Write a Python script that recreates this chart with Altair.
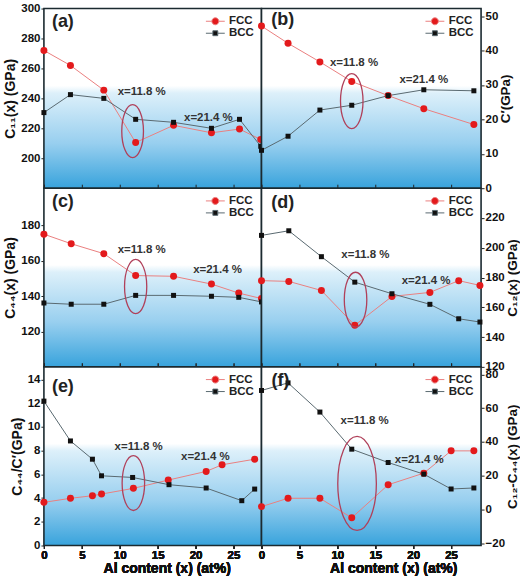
import altair as alt
import pandas as pd

FONT = "Liberation Sans"
XTICKS = [0, 5, 10, 15, 20, 25]

# ---------------- data ----------------
a_fcc_x = [0, 3.5, 7.9, 12.1, 17.1, 22.1, 25.8, 28.6]
a_fcc_y = [272, 262, 245.5, 210.5, 222, 217, 219.5, 212.5]
a_bcc_x = [0, 3.5, 7.9, 12.1, 17.1, 22.1, 25.8, 28.6]
a_bcc_y = [230.5, 242.5, 240, 226, 224, 220, 226, 208]

b_fcc_x = [0, 3.5, 7.7, 11.9, 16.7, 21.4, 28.0]
b_fcc_y = [47.1, 42.1, 36.7, 31.0, 26.9, 23.1, 18.5]
b_bcc_x = [0, 3.5, 7.7, 11.9, 16.7, 21.4, 28.0]
b_bcc_y = [11.0, 15.1, 22.7, 24.1, 26.9, 28.6, 28.3]

c_fcc_x = [0, 3.6, 7.9, 12.1, 17.1, 22.1, 25.7, 28.7]
c_fcc_y = [175, 169.6, 164, 151.6, 151.2, 146.8, 141.7, 138.6]
c_bcc_x = [0, 3.6, 7.9, 12.1, 17.1, 22.1, 25.7, 28.7]
c_bcc_y = [136.1, 135.4, 135.4, 140.4, 140.4, 139.9, 139.3, 136.7]

d_fcc_x = [0, 3.6, 7.9, 12.3, 17.2, 22.2, 26.0, 28.8]
d_fcc_y = [177.9, 177.4, 171.3, 147.9, 167.3, 170, 177.9, 174.7]
d_bcc_x = [0, 3.6, 7.9, 12.3, 17.2, 22.2, 26.0, 28.8]
d_bcc_y = [208.3, 211.4, 194, 176.9, 169.1, 162, 152.3, 150.1]

e_fcc_x = [0, 3.5, 6.4, 7.6, 11.8, 16.4, 21.4, 23.5, 27.8]
e_fcc_y = [3.64, 3.98, 4.2, 4.34, 4.82, 5.52, 6.25, 6.81, 7.28]
e_bcc_x = [0, 3.5, 6.4, 7.6, 11.7, 16.5, 21.4, 26.1, 27.8]
e_bcc_y = [12.18, 8.82, 7.28, 5.88, 5.74, 5.13, 4.85, 3.78, 4.76]

f_fcc_x = [0, 3.5, 7.7, 11.9, 16.7, 21.4, 25, 28]
f_fcc_y = [1.65, 6.6, 6.6, -5.0, 14.6, 21.5, 34.7, 34.7]
f_bcc_x = [0, 3.5, 7.7, 11.9, 16.7, 21.4, 25, 28]
f_bcc_y = [70.5, 75, 57.7, 35.7, 27.8, 20.9, 12.1, 12.7]

# annotations
note_labels = ["x=11.8 %", "x=21.4 %"]
a_note_x, a_note_y = [12.9, 21.7], [244.3, 227]
b_note_x, b_note_y = [12.2, 21.4], [36.4, 31.3]
c_note_x, c_note_y = [12.9, 22.9], [166.2, 155]
d_note_x, d_note_y = [13.7, 21.7], [194.8, 177.9]
e_note_x, e_note_y = [12.5, 21.3], [8.34, 7.5]
f_note_x, f_note_y = [13.6, 20.8], [52.4, 29.4]

# ellipse centres (around x = 11.8 %)
a_ell, b_ell, c_ell = (11.7, 218.1), (11.9, 25.3), (12.1, 145.4)
d_ell, e_ell, f_ell = (12.4, 165.1), (11.8, 5.27), (12.6, 15.4)

panel_labels = ["(a)", "(b)", "(c)", "(d)", "(e)", "(f)"]
a_lab, b_lab, c_lab = (2.5, 290.8), (2.8, 49.0), (2.5, 193.1)
d_lab, e_lab, f_lab = (2.8, 229.9), (2.5, 13.4), (2.5, 76.4)

y_titles = ["C₁₁(x) (GPa)", "C′(GPa)", "C₄₄(x) (GPa)",
            "C₁₂(x) (GPa)", "C₄₄/C′(GPa)", "C₁₂-C₄₄(x) (GPa)"]
a_yticks = [200, 220, 240, 260, 280, 300]
b_yticks = [0, 10, 20, 30, 40, 50]
c_yticks = [120, 140, 160, 180]
d_yticks = [120, 140, 160, 180, 200, 220]
e_yticks = [0, 2, 4, 6, 8, 10, 12, 14]
f_yticks = [-20, 0, 20, 40, 60, 80]
series_names = ["FCC", "BCC"]
x_title = "Al content (x) (at%)"

# ---------------- styles ----------------
RED = "#e31a1c"
RED_LINE = "#ea8080"
BLACK = "#111111"
GRAY_LINE = "#596970"
ELL = "#b0405a"

K = 0.5523
ER = 0.41
ELLIPSE = (f"M 0 -1 C {ER*K:.4f} -1 {ER} -{K} {ER} 0 C {ER} {K} {ER*K:.4f} 1 0 1 "
           f"C -{ER*K:.4f} 1 -{ER} {K} -{ER} 0 C -{ER} -{K} -{ER*K:.4f} -1 0 -1 Z")
LEG_FCC = (f"M -2.7 0 L -1 0 M 1 0 L 2.7 0 M 1 0 C 1 {K} {K} 1 0 1 C -{K} 1 -1 {K} -1 0 "
           f"C -1 -{K} -{K} -1 0 -1 C {K} -1 1 -{K} 1 0 Z")
LEG_BCC = "M -2.7 0 L -0.7 0 M 0.7 0 L 2.7 0 M -0.7 -0.7 L 0.7 -0.7 L 0.7 0.7 L -0.7 0.7 Z"

grad = alt.Gradient(
    gradient="linear",
    stops=[alt.GradientStop(color="#ffffff", offset=0),
           alt.GradientStop(color="#ffffff", offset=0.43),
           alt.GradientStop(color="#ddf0fa", offset=0.47),
           alt.GradientStop(color="#98cfef", offset=0.75),
           alt.GradientStop(color="#38a3dc", offset=1)],
    x1=0, x2=0, y1=0, y2=1)


def build(fx, fy, bx, by, ydom, yvals, ytitle, side, xdom, row, nx, ny, ell,
          lab, labtext, ellsize, w, h, titlex):
    df = pd.DataFrame({"x": fx + bx, "y": fy + by,
                       "series": ["FCC"] * len(fx) + ["BCC"] * len(bx)})
    notes = pd.DataFrame({"x": nx, "y": ny, "t": note_labels})
    ells = pd.DataFrame({"x": [ell[0]], "y": [ell[1]]})
    labs = pd.DataFrame({"x": [lab[0]], "y": [lab[1]], "t": [labtext]})

    xs = alt.Scale(domain=xdom, nice=False, zero=False)
    ys = alt.Scale(domain=ydom, nice=False, zero=False)

    top_ticks = alt.Axis(orient="top", labels=False, ticks=True, tickSize=4,
                         domain=False, title=None, values=XTICKS, grid=False,
                         tickColor="#222")
    bottom_axis = alt.Axis(orient="bottom", values=XTICKS, tickSize=3,
                           labelPadding=1, domain=False, grid=False,
                           labelFlush=False, title=x_title, titleX=titlex,
                           titlePadding=1, tickColor="#222")
    if row == 0:
        ax_main, ax_line = None, None
    elif row == 1:
        ax_main, ax_line = top_ticks, top_ticks
    else:
        ax_main, ax_line = bottom_axis, top_ticks

    if side == "left":
        yaxis = alt.Axis(orient="left", values=yvals, tickSize=3, labelPadding=1,
                         domain=False, grid=False, title=ytitle, titlePadding=3,
                         tickColor="#222")
    else:
        yaxis = alt.Axis(orient="right", values=yvals, tickSize=3, labelPadding=1,
                         domain=False, grid=False, title=ytitle, titlePadding=1,
                         titleAngle=270, titleBaseline="top", titleFontSize=13.5,
                         tickColor="#222")

    def enc(axis):
        return dict(x=alt.X("x:Q", scale=xs, axis=axis),
                    y=alt.Y("y:Q", scale=ys, axis=yaxis))

    base = alt.Chart(df)
    bg = alt.Chart(alt.Data(values=[{"k": 1}])).mark_rect(
        fill=grad, stroke="#1b2a30", strokeWidth=1.6).encode(
        x=alt.value(0), x2=alt.value("width"), y=alt.value(0), y2=alt.value("height"))

    fline = base.transform_filter("datum.series === 'FCC'").mark_line(
        color=RED_LINE, strokeWidth=1).encode(**enc(ax_line))
    bline = base.transform_filter("datum.series === 'BCC'").mark_line(
        color=GRAY_LINE, strokeWidth=1).encode(**enc(ax_line))
    fpts = base.transform_filter("datum.series === 'FCC'").mark_point(
        shape="circle", filled=True, size=49, color=RED, opacity=1).encode(**enc(ax_main))
    bpts = base.transform_filter("datum.series === 'BCC'").mark_point(
        shape="square", filled=True, size=25, color=BLACK, opacity=1).encode(**enc(ax_main))
    ellipse = alt.Chart(ells).mark_point(
        shape=ELLIPSE, filled=False, size=ellsize, stroke=ELL, strokeWidth=1.3,
        opacity=1).encode(**enc(ax_main))
    ntext = alt.Chart(notes).mark_text(
        font=FONT, fontSize=11.5, fontWeight="bold", color="#333").encode(
        text="t:N", **enc(ax_main))
    ltext = alt.Chart(labs).mark_text(
        font=FONT, fontSize=18, fontWeight="bold", color="#222").encode(
        text="t:N", **enc(ax_main))

    leg = alt.Legend(orient="top-right", title=None, offset=7, padding=0,
                     labelFont=FONT, labelFontSize=11.5, labelFontWeight="bold",
                     labelColor="#222", symbolSize=49, symbolStrokeWidth=1,
                     rowPadding=-2.5, labelOffset=8)
    legend_layer = base.transform_filter("false").mark_point(
        filled=True, opacity=1, strokeWidth=1).encode(
        fill=alt.Fill("series:N", scale=alt.Scale(domain=series_names, range=[RED, BLACK]), legend=leg),
        stroke=alt.Stroke("series:N", scale=alt.Scale(domain=series_names, range=[RED_LINE, GRAY_LINE]), legend=leg),
        shape=alt.Shape("series:N", scale=alt.Scale(domain=series_names, range=[LEG_FCC, LEG_BCC]), legend=leg),
        **enc(ax_main))

    return alt.layer(bg, fline, bline, fpts, bpts, ellipse, ntext, ltext,
                     legend_layer).properties(width=w, height=h)


LW, RW = 218, 220
LDOM, RDOM = [0, 28.7], [0, 28.95]

pa = build(a_fcc_x, a_fcc_y, a_bcc_x, a_bcc_y, [180, 300], a_yticks, y_titles[0], "left",
           LDOM, 0, a_note_x, a_note_y, a_ell, a_lab, panel_labels[0], 2809, LW, 180, 123)
pb = build(b_fcc_x, b_fcc_y, b_bcc_x, b_bcc_y, [0, 52.2], b_yticks, y_titles[1], "right",
           RDOM, 0, b_note_x, b_note_y, b_ell, b_lab, panel_labels[1], 3025, RW, 180, 132)
pc = build(c_fcc_x, c_fcc_y, c_bcc_x, c_bcc_y, [100, 201], c_yticks, y_titles[2], "left",
           LDOM, 1, c_note_x, c_note_y, c_ell, c_lab, panel_labels[2], 2950, LW, 179, 123)
pd_ = build(d_fcc_x, d_fcc_y, d_bcc_x, d_bcc_y, [120, 240], d_yticks, y_titles[3], "right",
            RDOM, 1, d_note_x, d_note_y, d_ell, d_lab, panel_labels[3], 3025, RW, 179, 132)
pe = build(e_fcc_x, e_fcc_y, e_bcc_x, e_bcc_y, [0, 15.07], e_yticks, y_titles[4], "left",
           LDOM, 2, e_note_x, e_note_y, e_ell, e_lab, panel_labels[4], 3025, LW, 179, 123)
pf = build(f_fcc_x, f_fcc_y, f_bcc_x, f_bcc_y, [-21.4, 84.5], f_yticks, y_titles[5], "right",
           RDOM, 2, f_note_x, f_note_y, f_ell, f_lab, panel_labels[5], 8890, RW, 179, 132)

chart = alt.concat(pa, pb, pc, pd_, pe, pf, columns=2, spacing=0, bounds="flush").resolve_scale(
    fill="independent", stroke="independent", shape="independent"
).resolve_legend(
    fill="independent", stroke="independent", shape="independent"
).properties(
    padding={"left": 3, "top": 2, "right": 0, "bottom": 0},
    background="white",
).configure_view(strokeWidth=0).configure_axis(
    labelFont=FONT, labelFontSize=11.5, labelFontWeight="bold", labelColor="#111",
    titleFont=FONT, titleFontSize=14, titleFontWeight="bold", titleColor="#111",
    grid=False,
)

chart.save("out.html", embed_options={"renderer": "svg", "actions": False})
